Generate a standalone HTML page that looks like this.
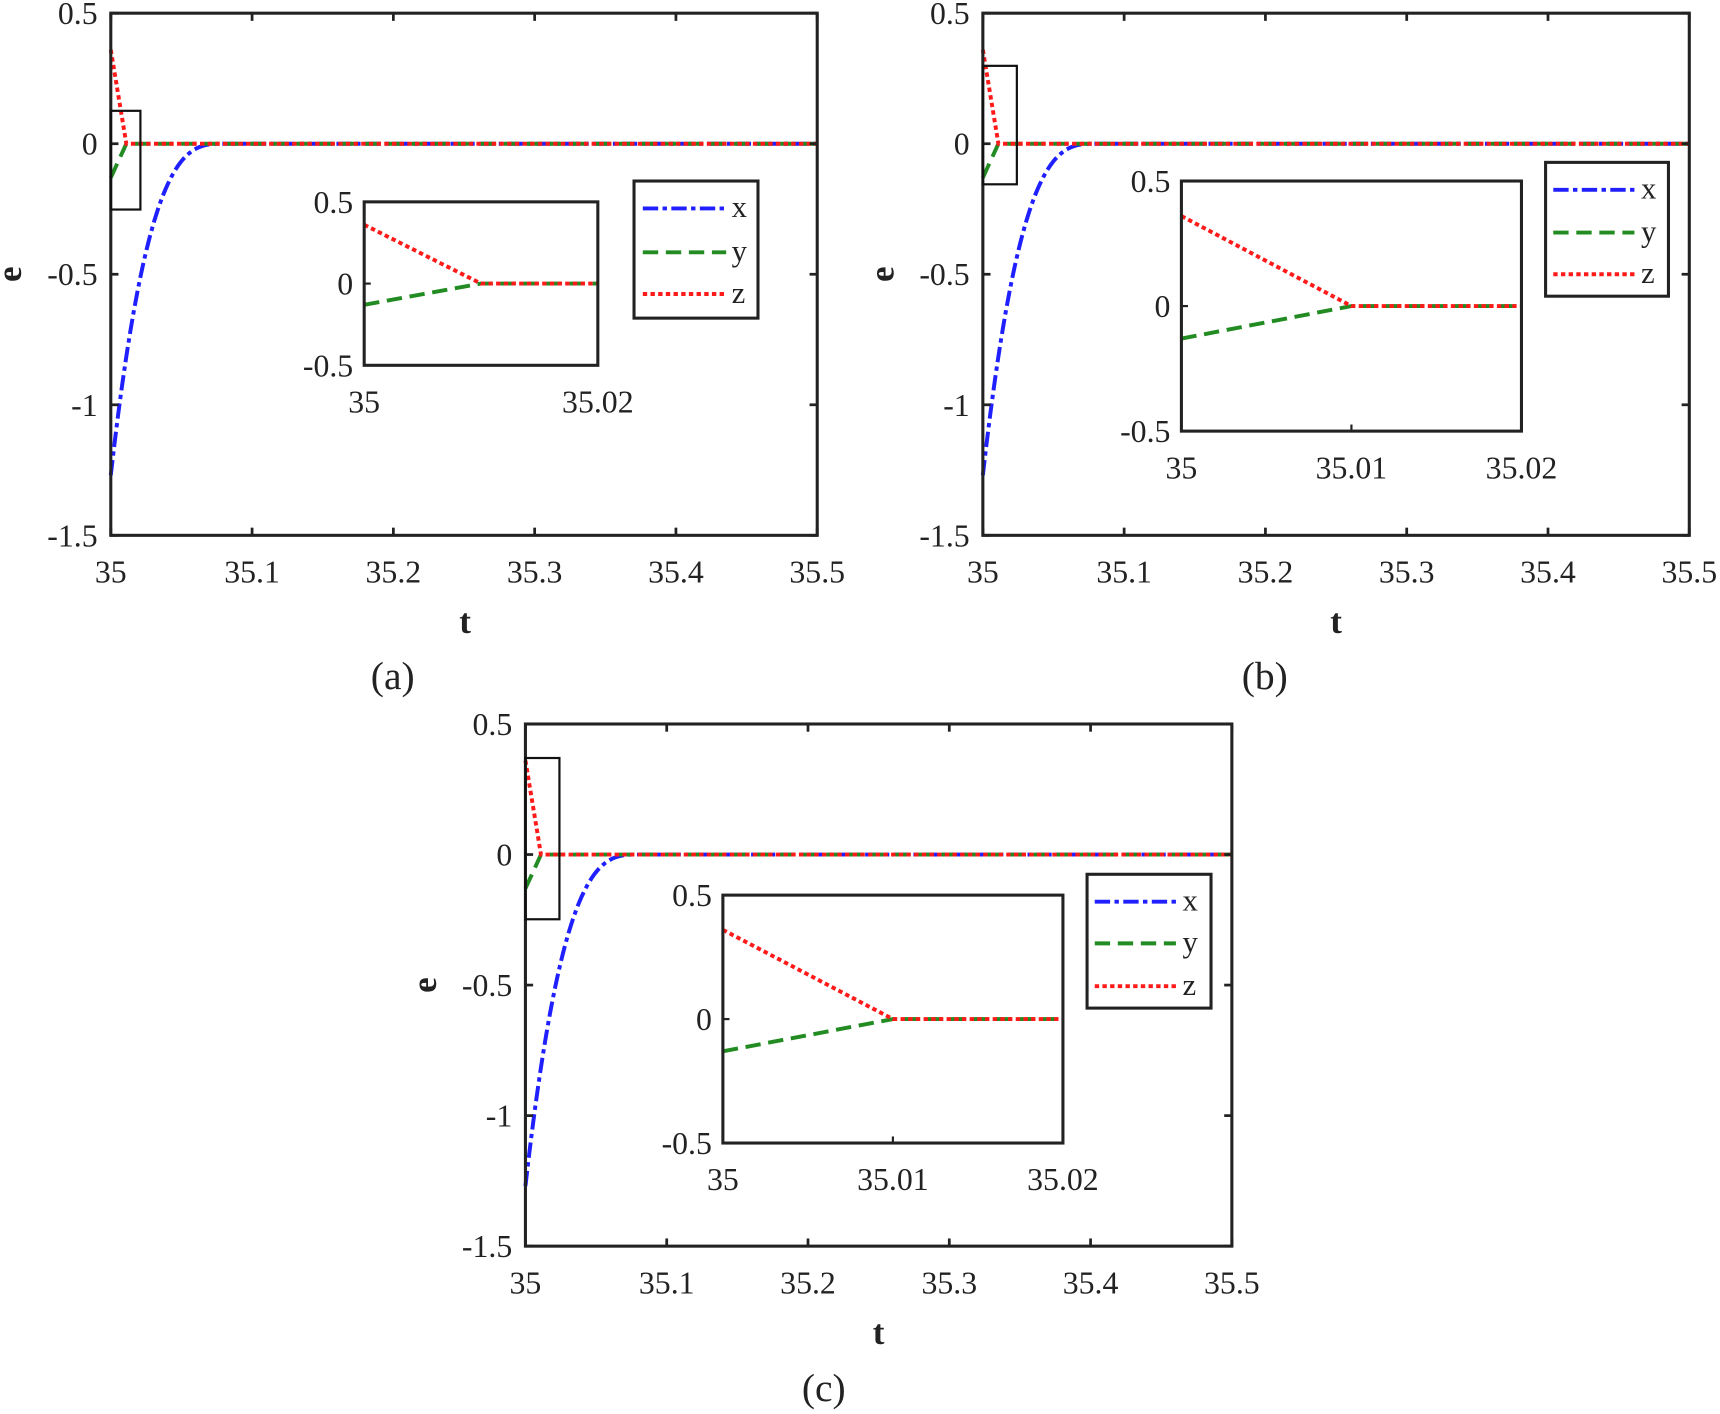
<!DOCTYPE html>
<html><head><meta charset="utf-8">
<style>
html,body{margin:0;padding:0;background:#fff;}
svg{display:block;}
text{font-family:"Liberation Serif",serif;fill:#222;}
</style></head>
<body>
<svg id="s" width="1720" height="1414" viewBox="0 0 1568 1289" xmlns="http://www.w3.org/2000/svg"></svg>
<script>
const s=document.getElementById('s');
let h='';
const BL='#1f1fff',GR='#228b22',RD='#ff1a1a';
const DX='14 4 4 4',DY='14 7',DZ='4 3';
function line(pts,c,d,w){h+=`<polyline points="${pts.map(p=>p.join(',')).join(' ')}" fill="none" stroke="${c}" stroke-width="${w||3.6}" stroke-dasharray="${d}"/>`;}
function txt(x,y,t,a,sz,extra){h+=`<text x="${x}" y="${y}" font-size="${sz||29}" text-anchor="${a||'middle'}" ${extra||''}>${t}</text>`;}
function panel(x0,y0,lab,rect,inset,leg,tl,ll){
  const x1=x0+644, yb=y0+476, sx=644/0.5, sy=476/2;
  const Y=v=>y0+(0.5-v)*sy, X=t=>x0+(t-35)*sx;
  let bp=[];for(let i=0;i<=60;i++){let u=i/60*0.08;bp.push([X(35+u),Y(-1.27*Math.pow(1-u/0.08,3))]);}
  bp.push([x1,Y(0)]);
  line(bp,BL,DX);
  line([[x0,Y(-0.13)],[X(35.011),Y(0)],[x1,Y(0)]],GR,DY);
  line([[x0,Y(0.36)],[X(35.011),Y(0)],[x1,Y(0)]],RD,DZ);
  h+=`<rect x="${x0}" y="${y0}" width="644" height="476" fill="none" stroke="#222" stroke-width="2.8"/>`;
  for(let i=0;i<=5;i++){let x=x0+i*sx*0.1;h+=`<line x1="${x}" y1="${yb}" x2="${x}" y2="${yb-7}" stroke="#222" stroke-width="2.5"/><line x1="${x}" y1="${y0}" x2="${x}" y2="${y0+7}" stroke="#222" stroke-width="2.5"/>`;
    txt(x,yb+43,['35','35.1','35.2','35.3','35.4','35.5'][i]);}
  const yl=['0.5','0','-0.5','-1','-1.5'];
  for(let i=0;i<5;i++){let y=y0+i*sy*0.5;h+=`<line x1="${x0}" y1="${y}" x2="${x0+7}" y2="${y}" stroke="#222" stroke-width="2.5"/><line x1="${x1}" y1="${y}" x2="${x1-7}" y2="${y}" stroke="#222" stroke-width="2.5"/>`;
    txt(x0-12,y+10,yl[i],'end');}
  txt(tl[0],tl[1],'t','middle',32,'font-weight="bold"');
  h+=`<text x="${x0-89}" y="${y0+238}" font-size="32" font-weight="bold" text-anchor="middle" transform="rotate(-90 ${x0-89} ${y0+238})" dominant-baseline="middle">e</text>`;
  txt(ll[0],ll[1],lab,'middle',36);
  h+=`<rect x="${rect[0]}" y="${rect[1]}" width="${rect[2]}" height="${rect[3]}" fill="none" stroke="#111" stroke-width="2"/>`;
  const [ix0,iy0,ix1,iy1,xl]=inset, iy=v=>iy0+(0.5-v)*(iy1-iy0), ix=t=>ix0+(t-35)/0.02*(ix1-ix0);
  h+=`<rect x="${ix0}" y="${iy0}" width="${ix1-ix0}" height="${iy1-iy0}" fill="#fff"/>`;
  line([[ix0,iy(-0.13)],[ix(35.01),iy(0)],[ix1,iy(0)]],GR,DY);
  line([[ix0,iy(0.36)],[ix(35.01),iy(0)],[ix1,iy(0)]],RD,DZ);
  h+=`<rect x="${ix0}" y="${iy0}" width="${ix1-ix0}" height="${iy1-iy0}" fill="none" stroke="#222" stroke-width="2.8"/>`;
  [['0.5',0.5],['0',0],['-0.5',-0.5]].forEach(([l,v])=>{txt(ix0-10,iy(v)+10,l,'end');h+=`<line x1="${ix0}" y1="${iy(v)}" x2="${ix0+6}" y2="${iy(v)}" stroke="#222" stroke-width="2"/>`;});
  xl.forEach(l=>{let x=ix(parseFloat(l));txt(x,iy1+43,l);h+=`<line x1="${x}" y1="${iy1}" x2="${x}" y2="${iy1-6}" stroke="#222" stroke-width="2"/>`;});
  const [lx0,ly0,lx1,ly1,ys,la,lb,tx]=leg;
  h+=`<rect x="${lx0}" y="${ly0}" width="${lx1-lx0}" height="${ly1-ly0}" fill="#fff" stroke="#222" stroke-width="2.8"/>`;
  [[BL,DX,'x'],[GR,DY,'y'],[RD,DZ,'z']].forEach(([c,d,n],i)=>{line([[la,ys[i]],[lb,ys[i]]],c,d);txt(tx,ys[i]+8,n,'start',28);});
}
panel(101,12,'(a)',[101,101,27,90],[332,184,545,333,['35','35.02']],[578,165,691,290,[190,230,268],586,662,667],[424,577],[358,628]);
panel(896,12,'(b)',[896,60,31,108],[1077,165,1387,393,['35','35.01','35.02']],[1409,148,1521,270,[173,212,250],1416,1490,1496],[1218,577],[1153,628]);
panel(479,660,'(c)',[479,691,31,147],[659,816,969,1042,['35','35.01','35.02']],[991,797,1104,919,[822,860,899],998,1072,1078],[801,1225],[751,1277]);
s.innerHTML=h;
</script>
</body></html>
